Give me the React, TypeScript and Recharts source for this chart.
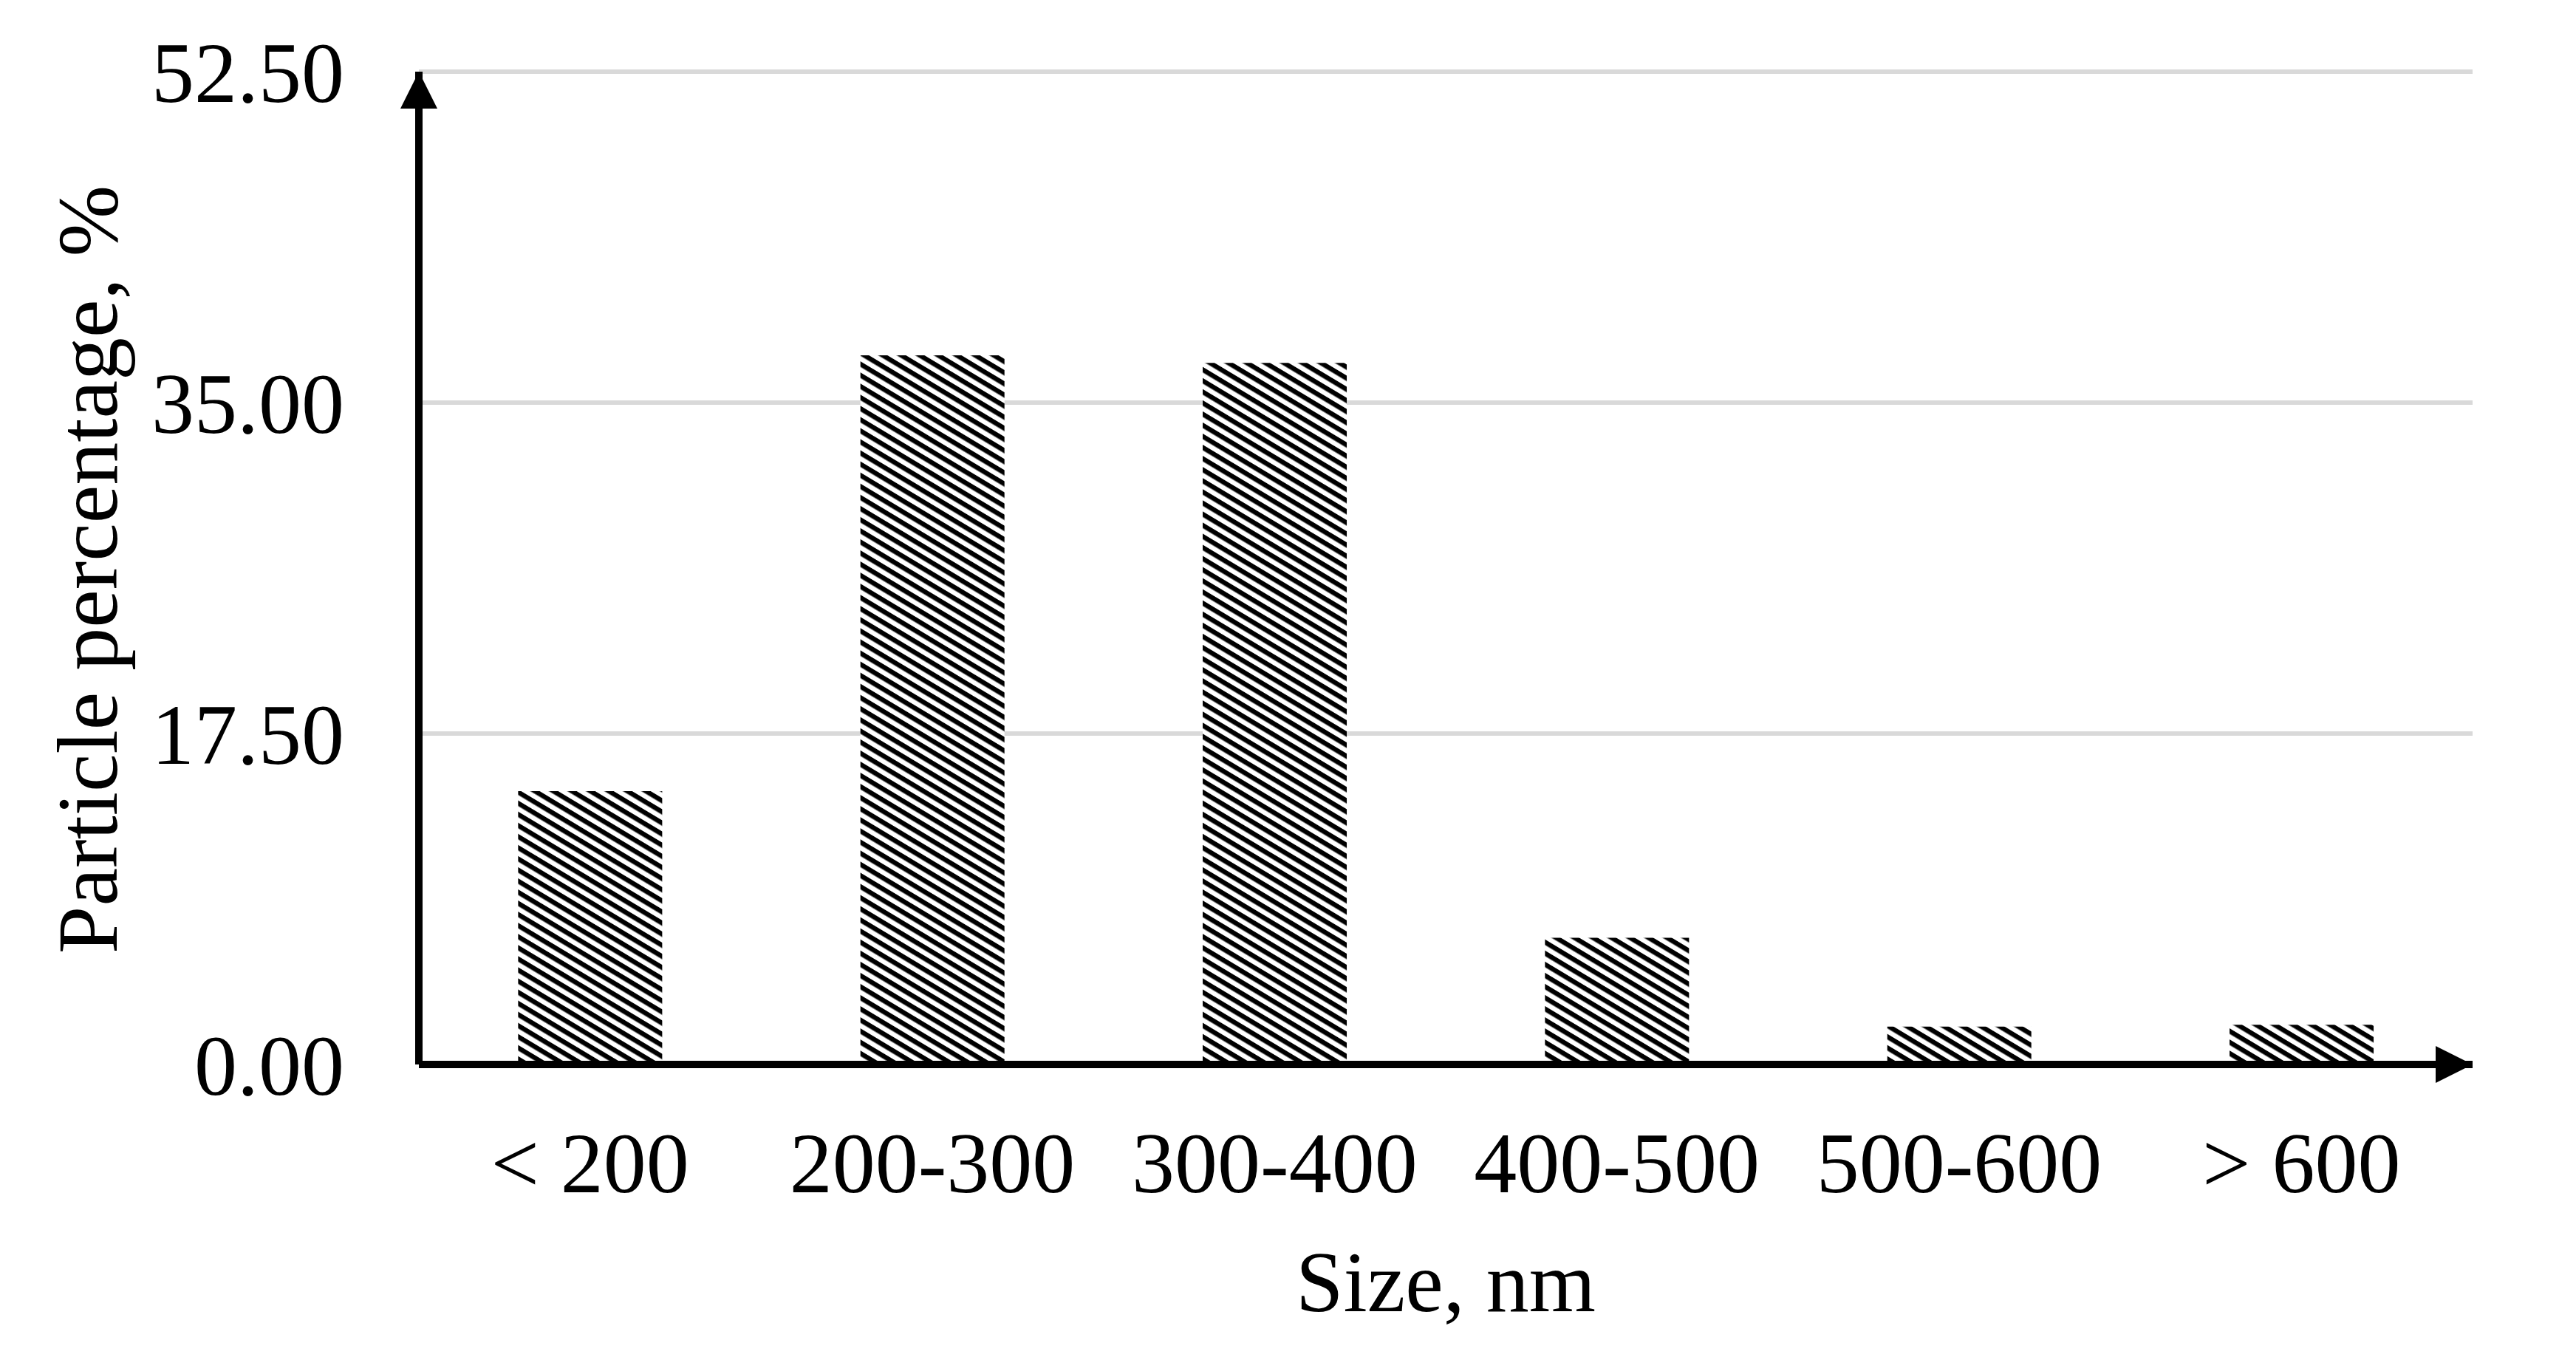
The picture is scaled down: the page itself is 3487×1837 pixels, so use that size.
import { Bar, BarChart, CartesianGrid, XAxis, YAxis } from 'recharts';

const sizeBins = ['< 200', '200-300', '300-400', '400-500', '500-600', '> 600'];
const particlePct = [14.45, 37.5, 37.1, 6.7, 2.0, 2.1];
const yTicks = [0, 17.5, 35, 52.5];

const data = sizeBins.map((name, i) => ({ name, value: particlePct[i] }));

const FONT = '"Liberation Serif", "Times New Roman", serif';
const FS = 116;

const YTitle = () => (
  <text
    transform="translate(158,771) rotate(-90)"
    textAnchor="middle"
    fontFamily={FONT}
    fontSize={FS}
    fill="#000"
  >
    Particle percentage, %
  </text>
);

export default function App() {
  return (
    <div style={{ position: 'absolute', left: 0, top: 0, background: '#fff' }}>
      <BarChart
        width={3487}
        height={1837}
        data={data}
        barCategoryGap="29%"
        margin={{ top: 97, right: 140, left: 167, bottom: 146 }}
      >
        <defs>
          <pattern
            id="stripes"
            patternUnits="userSpaceOnUse"
            width={10}
            height={12.9}
            patternTransform="rotate(31)"
          >
            <rect x={0} y={0} width={10} height={12.9} fill="#fff" />
            <rect x={0} y={0} width={10} height={6.45} fill="#000" />
          </pattern>
          <marker
            id="arrow"
            viewBox="0 0 10 10"
            refX={10}
            refY={5}
            markerWidth={50}
            markerHeight={50}
            markerUnits="userSpaceOnUse"
            orient="auto-start-reverse"
          >
            <path d="M0,0 L10,5 L0,10 z" fill="#000" />
          </marker>
        </defs>
        <CartesianGrid vertical={false} stroke="#d9d9d9" strokeWidth={6} />
        <XAxis
          dataKey="name"
          height={250}
          tickLine={false}
          tickSize={0}
          tickMargin={91}
          axisLine={{ stroke: '#000', strokeWidth: 10, markerEnd: 'url(#arrow)' }}
          tick={{ fill: '#000', fontSize: FS, fontFamily: FONT }}
          label={{
            value: 'Size, nm',
            position: 'bottom',
            offset: 2,
            fill: '#000',
            fontSize: FS,
            fontFamily: FONT,
          }}
        />
        <YAxis
          width={400}
          domain={[0, 52.5]}
          ticks={yTicks}
          tickFormatter={(v: number) => v.toFixed(2)}
          tickLine={false}
          tickSize={0}
          tickMargin={101}
          axisLine={{ stroke: '#000', strokeWidth: 10, markerStart: 'url(#arrow)' }}
          tick={{ fill: '#000', fontSize: FS, fontFamily: FONT }}
          label={{ content: () => <YTitle /> }}
        />
        <Bar dataKey="value" fill="url(#stripes)" isAnimationActive={false} />
      </BarChart>
    </div>
  );
}
